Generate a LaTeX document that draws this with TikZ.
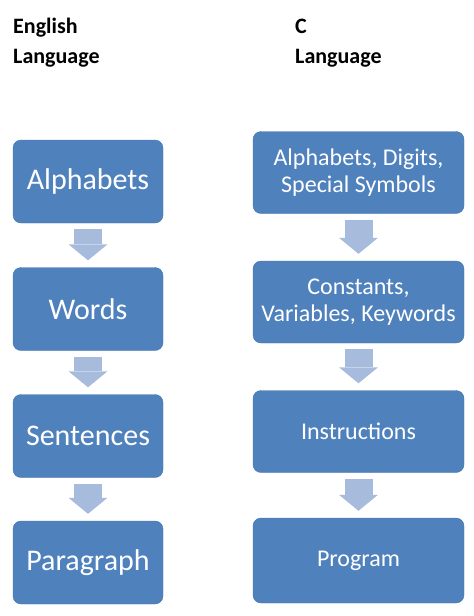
\documentclass[tikz,border=0pt]{standalone}
\usepackage{fontspec}
\setmainfont{Carlito}
\usepackage{xcolor}
\usetikzlibrary{positioning,arrows.meta}

\definecolor{boxblue}{RGB}{79,129,189}
\definecolor{boxline}{RGB}{70,118,176}
\definecolor{arrblue}{RGB}{167,187,220}

\begin{document}
\begin{tikzpicture}[
    x=1pt, y=-1pt,
    hdr/.style={font=\fontsize{22}{30}\selectfont\bfseries, align=left, anchor=base west, inner sep=0pt},
    word/.style={draw=boxline, fill=boxblue, rounded corners=8pt, text=white, align=center,
                 font=\fontsize{30}{34}\selectfont, minimum width=150pt, minimum height=83pt},
    cbox/.style={draw=boxline, fill=boxblue, rounded corners=8pt, text=white, align=center,
                 font=\fontsize{24}{27}\selectfont, minimum width=211pt, minimum height=82pt},
    down/.style={-{Triangle[width=39pt,length=16pt,line width=0pt]}, line width=28pt, arrblue,
                 shorten <=6pt, shorten >=7pt}
]
\useasboundingbox (0,0) rectangle (474,616);

% ---- headings ----
\node[hdr] (engT) at (13,63) {English\\Language};
\node[hdr] (cT) at (295,63) {C\\Language};

% ---- English language ----
\node[word] (alpha) at (88,181.5) {Alphabets};
\node[word] (words) at (88,309) {Words};
\node[word] (sent) at (88,436) {Sentences};
\node[word] (para) at (88,562.5) {Paragraph};

% ---- C language ----
\node[cbox] (chars) at (358.5,172.5) {Alphabets, Digits,\\ Special Symbols};
\node[cbox] (toks) at (358.5,302) {Constants,\\ Variables, Keywords};
\node[cbox] (instr) at (358.5,431.5) {Instructions};
\node[cbox, minimum height=85pt] (prog) at (358.5,560.5) {Program};

% Arrows
\draw[down] (alpha) -- (words);
\draw[down] (words) -- (sent);
\draw[down] (sent) -- (para);
\draw[down] (chars) -- (toks);
\draw[down] (toks) -- (instr);
\draw[down] (instr) -- (prog);
\end{tikzpicture}
\end{document}
